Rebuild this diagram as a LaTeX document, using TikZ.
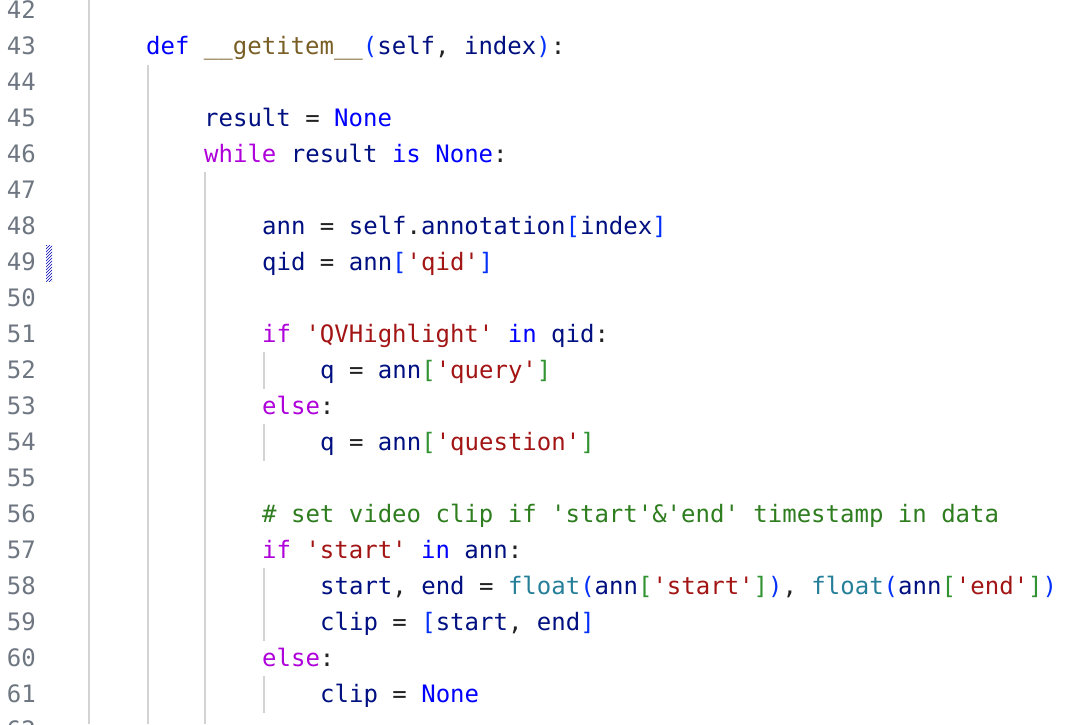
\documentclass[tikz,border=0pt]{standalone}
\usepackage{fontspec}
\setmonofont{DejaVu Sans Mono}
\usetikzlibrary{patterns}
\definecolor{ckw}{HTML}{0000FF}
\definecolor{cctl}{HTML}{AF00DB}
\definecolor{cvar}{HTML}{001080}
\definecolor{cfn}{HTML}{795E26}
\definecolor{cstr}{HTML}{A31515}
\definecolor{ccom}{HTML}{2E7D1F}
\definecolor{ccls}{HTML}{267F99}
\definecolor{cb1}{HTML}{0431FA}
\definecolor{cb2}{HTML}{319331}
\definecolor{cop}{HTML}{222222}
\definecolor{cnum}{HTML}{6E7681}
\definecolor{cguide}{HTML}{D3D3D3}
\newcommand\Kw[1]{\textcolor{ckw}{#1}}
\newcommand\Ct[1]{\textcolor{cctl}{#1}}
\newcommand\Vr[1]{\textcolor{cvar}{#1}}
\newcommand\Fn[1]{\textcolor{cfn}{#1}}
\newcommand\St[1]{\textcolor{cstr}{#1}}
\newcommand\Cm[1]{\textcolor{ccom}{#1}}
\newcommand\Cl[1]{\textcolor{ccls}{#1}}
\newcommand\Ba[1]{\textcolor{cb1}{#1}}
\newcommand\Bb[1]{\textcolor{cb2}{#1}}
\newcommand\Op[1]{\textcolor{cop}{#1}}
\begin{document}
\begin{tikzpicture}[x=1pt,y=-1pt,
  code/.style={anchor=base west,inner sep=0pt,font=\fontsize{24}{24}\ttfamily},
  lnum/.style={anchor=base east,inner sep=0pt,font=\fontsize{24}{24}\ttfamily,text=cnum},
  guide/.style={draw=cguide,line width=1.5pt}]
\fill[white] (0,0) rectangle (1088,724);
\useasboundingbox (0,0) rectangle (1088,724);
\begin{scope}
\clip (0,0) rectangle (1088,724);
\foreach \n [count=\i from 0] in {42,...,62}
  \node[lnum] (n\n) at (36,18+36*\i) {\n};
\draw[guide] (89,0) -- (89,724);
\draw[guide] (148,65) -- (148,724);
\draw[guide] (205,172) -- (205,724);
\draw[guide] (264,352) -- (264,389);
\draw[guide] (264,424) -- (264,461);
\draw[guide] (264,568) -- (264,641);
\draw[guide] (264,676) -- (264,713);
\fill[white] (46,245) rectangle (52,281);
\fill[pattern=north east lines,pattern color=blue!70!black] (46,245) rectangle (52,281);
\node[code] (l43) at (146,54) {\Kw{def} \Fn{\_\_getitem\_\_}\Ba{(}\Vr{self}\Op{,} \Vr{index}\Ba{)}\Op{:}};
\node[code] (l45) at (204,126) {\Vr{result} \Op{=} \Kw{None}};
\node[code] (l46) at (204,162) {\Ct{while} \Vr{result} \Kw{is} \Kw{None}\Op{:}};
\node[code] (l48) at (262,234) {\Vr{ann} \Op{=} \Vr{self}\Op{.}\Vr{annotation}\Ba{[}\Vr{index}\Ba{]}};
\node[code] (l49) at (262,270) {\Vr{qid} \Op{=} \Vr{ann}\Ba{[}\St{'qid'}\Ba{]}};
\node[code] (l51) at (262,342) {\Ct{if} \St{'QVHighlight'} \Kw{in} \Vr{qid}\Op{:}};
\node[code] (l52) at (320,378) {\Vr{q} \Op{=} \Vr{ann}\Bb{[}\St{'query'}\Bb{]}};
\node[code] (l53) at (262,414) {\Ct{else}\Op{:}};
\node[code] (l54) at (320,450) {\Vr{q} \Op{=} \Vr{ann}\Bb{[}\St{'question'}\Bb{]}};
\node[code] (l56) at (262,522) {\Cm{\# set video clip if 'start'\&'end' timestamp in data}};
\node[code] (l57) at (262,558) {\Ct{if} \St{'start'} \Kw{in} \Vr{ann}\Op{:}};
\node[code] (l58) at (320,594) {\Vr{start}\Op{,} \Vr{end} \Op{=} \Cl{float}\Ba{(}\Vr{ann}\Bb{[}\St{'start'}\Bb{]}\Ba{)}\Op{,} \Cl{float}\Ba{(}\Vr{ann}\Bb{[}\St{'end'}\Bb{]}\Ba{)}};
\node[code] (l59) at (320,630) {\Vr{clip} \Op{=} \Ba{[}\Vr{start}\Op{,} \Vr{end}\Ba{]}};
\node[code] (l60) at (262,666) {\Ct{else}\Op{:}};
\node[code] (l61) at (320,702) {\Vr{clip} \Op{=} \Kw{None}};
\end{scope}
\end{tikzpicture}
\end{document}
